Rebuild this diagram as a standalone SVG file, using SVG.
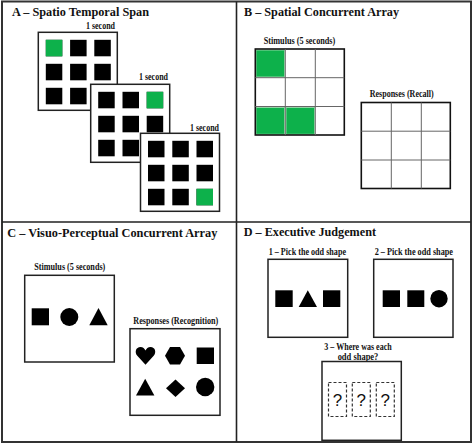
<svg xmlns="http://www.w3.org/2000/svg" xmlns:xlink="http://www.w3.org/1999/xlink" width="474" height="445" viewBox="0 0 474 445">
<style>
.title{font-family:"Liberation Serif","Times New Roman",serif;font-weight:bold;font-size:13.5px;fill:#111}
.lbl{font-family:"Liberation Serif","Times New Roman",serif;font-weight:bold;font-size:9.5px;fill:#111}
.box{fill:#fff;stroke:#222;stroke-width:1.5}
.sq{fill:#000}
.grn{fill:#0db14b}
.cell{fill:#0db14b;stroke:#8fd6a3;stroke-width:1}
.inner{stroke:#666;stroke-width:1;fill:none}
.dash{fill:none;stroke:#333;stroke-width:1.2;stroke-dasharray:3 2}
.q{font-family:"Liberation Sans",Arial,sans-serif;font-size:17px;fill:#111}
</style>
<defs>
<g id="grid9">
<rect class="box" x="0" y="0" width="79" height="78"/>
<rect class="sq" x="7.5" y="7.5" width="16.5" height="16.5"/>
<rect class="sq" x="31.8" y="7.5" width="16.5" height="16.5"/>
<rect class="sq" x="56" y="7.5" width="16.5" height="16.5"/>
<rect class="sq" x="7.5" y="31.5" width="16.5" height="16.5"/>
<rect class="sq" x="31.8" y="31.5" width="16.5" height="16.5"/>
<rect class="sq" x="56" y="31.5" width="16.5" height="16.5"/>
<rect class="sq" x="7.5" y="55.5" width="16.5" height="16.5"/>
<rect class="sq" x="31.8" y="55.5" width="16.5" height="16.5"/>
<rect class="sq" x="56" y="55.5" width="16.5" height="16.5"/>
</g>
<g id="grid3x3">
<rect x="0" y="0" width="89" height="86" fill="none" stroke="#111" stroke-width="1.6"/>
<path class="inner" d="M30 0V86M60 0V86M0 28.7H89M0 57.5H89"/>
</g>
</defs>
<rect x="0" y="0" width="474" height="445" fill="#fff"/>
<rect x="2" y="1.5" width="469" height="440.5" fill="none" stroke="#333" stroke-width="2"/>
<path d="M236.5 1.5V442M2 222H471" stroke="#222" stroke-width="1.6" fill="none"/>

<g id="panelA">
<text class="title" x="12" y="16" textLength="137" lengthAdjust="spacingAndGlyphs">A – Spatio Temporal Span</text>
<g id="a-grid1">
<text class="lbl" x="86" y="29" textLength="29" lengthAdjust="spacingAndGlyphs">1 second</text>
<use xlink:href="#grid9" href="#grid9" x="38.3" y="32.3"/>
<rect class="grn" x="45.8" y="39.8" width="16.5" height="16.5"/>
</g>
<g id="a-grid2">
<text class="lbl" x="139" y="80" textLength="29" lengthAdjust="spacingAndGlyphs">1 second</text>
<use xlink:href="#grid9" href="#grid9" x="90.7" y="84.3"/>
<rect class="grn" x="146.7" y="91.8" width="16.5" height="16.5"/>
</g>
<g id="a-grid3">
<text class="lbl" x="190" y="131" textLength="29" lengthAdjust="spacingAndGlyphs">1 second</text>
<use xlink:href="#grid9" href="#grid9" x="140.5" y="133.3"/>
<rect class="grn" x="196.5" y="188.8" width="16.5" height="16.5"/>
</g>
</g>

<g id="panelB">
<text class="title" x="244" y="16" textLength="155" lengthAdjust="spacingAndGlyphs">B – Spatial Concurrent Array</text>
<g id="b-stimulus">
<text class="lbl" x="263.7" y="43.7" textLength="71.6" lengthAdjust="spacingAndGlyphs">Stimulus (5 seconds)</text>
<rect class="cell" x="256" y="50" width="28.5" height="27"/>
<rect class="cell" x="256" y="107.5" width="28.5" height="26.8"/>
<rect class="cell" x="286" y="107.5" width="28.5" height="26.8"/>
<use xlink:href="#grid3x3" href="#grid3x3" x="255.3" y="49"/>
</g>
<g id="b-responses">
<text class="lbl" x="369.7" y="97.3" textLength="64" lengthAdjust="spacingAndGlyphs">Responses (Recall)</text>
<use xlink:href="#grid3x3" href="#grid3x3" x="361.3" y="102.5"/>
</g>
</g>

<g id="panelC">
<text class="title" x="7.3" y="237" textLength="210" lengthAdjust="spacingAndGlyphs">C – Visuo-Perceptual Concurrent Array</text>
<g id="c-stimulus">
<text class="lbl" x="34.3" y="270" textLength="71" lengthAdjust="spacingAndGlyphs">Stimulus (5 seconds)</text>
<rect class="box" x="24.7" y="275.3" width="89.6" height="86.7"/>
<rect class="sq" x="31.7" y="308.3" width="17.3" height="17"/>
<circle class="sq" cx="69.3" cy="317" r="9"/>
<polygon class="sq" points="98.5,308 89.3,325.3 107.7,325.3"/>
</g>
<g id="c-responses">
<text class="lbl" x="133.3" y="323.7" textLength="85" lengthAdjust="spacingAndGlyphs">Responses (Recognition)</text>
<rect class="box" x="130" y="328.7" width="90" height="86.6"/>
<path class="sq" d="M145.5 364.7L137.3 355.8C134.3 352.3 135.8 347 140.5 347C143 347 144.6 348.6 145.5 350.6C146.4 348.6 148 347 150.5 347C155.2 347 156.7 352.3 153.7 355.8Z"/>
<polygon class="sq" points="165,355.8 170,347 180,347 185,355.8 180,364.6 170,364.6"/>
<rect class="sq" x="196.7" y="347.5" width="17.3" height="16.5"/>
<polygon class="sq" points="145.2,378.7 136,395.5 154.4,395.5"/>
<polygon class="sq" points="175.5,379.6 185,388.3 175.5,397 166,388.3"/>
<circle class="sq" cx="205.2" cy="387" r="9.2"/>
</g>
</g>

<g id="panelD">
<text class="title" x="243.7" y="236" textLength="132.3" lengthAdjust="spacingAndGlyphs">D – Executive Judgement</text>
<g id="d-box1">
<text class="lbl" x="268.7" y="255.3" textLength="77.3" lengthAdjust="spacingAndGlyphs">1 – Pick the odd shape</text>
<rect class="box" x="268" y="259.3" width="79.7" height="78"/>
<rect class="sq" x="275.3" y="290.3" width="17.4" height="16.7"/>
<polygon class="sq" points="307.8,290.3 298.7,307 317,307"/>
<rect class="sq" x="323" y="290.3" width="17.3" height="16.7"/>
</g>
<g id="d-box2">
<text class="lbl" x="374.7" y="255.3" textLength="78.3" lengthAdjust="spacingAndGlyphs">2 – Pick the odd shape</text>
<rect class="box" x="373.7" y="259.3" width="79.3" height="78"/>
<rect class="sq" x="382.7" y="290.3" width="17.3" height="16.7"/>
<rect class="sq" x="407.3" y="290.3" width="17" height="16.7"/>
<circle class="sq" cx="439" cy="298.7" r="8.7"/>
</g>
<g id="d-box3">
<text class="lbl" x="358" y="350.3" text-anchor="middle" textLength="67.4" lengthAdjust="spacingAndGlyphs">3 – Where was each</text>
<text class="lbl" x="358" y="359.7" text-anchor="middle" textLength="40.7" lengthAdjust="spacingAndGlyphs">odd shape?</text>
<rect class="box" x="322" y="361.5" width="79.3" height="78.8"/>
<rect class="dash" x="328.5" y="382.5" width="18" height="34"/>
<rect class="dash" x="352.3" y="382.5" width="18" height="34"/>
<rect class="dash" x="376.3" y="382.5" width="18" height="34"/>
<text class="q" x="337.5" y="405.7" text-anchor="middle">?</text>
<text class="q" x="361.3" y="405.7" text-anchor="middle">?</text>
<text class="q" x="385.3" y="405.7" text-anchor="middle">?</text>
</g>
</g>
</svg>
